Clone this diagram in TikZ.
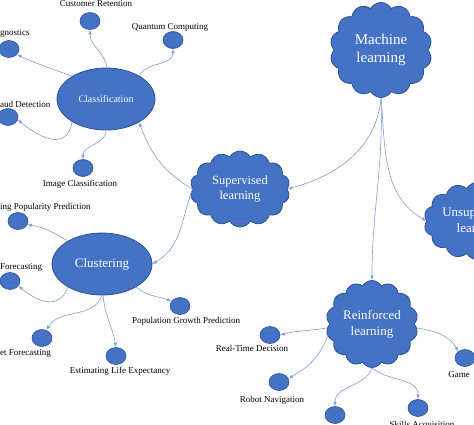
\documentclass[tikz,border=0pt]{standalone}
\usepackage{fontspec}
\setmainfont{Liberation Serif}
\usetikzlibrary{shapes.symbols,shapes.geometric,arrows.meta}
\definecolor{nodefill}{HTML}{4472C4}
\definecolor{nodeline}{HTML}{2F528F}
\definecolor{linkcol}{HTML}{7F9CD6}
\begin{document}
\begin{tikzpicture}[x=1pt,y=-1pt,
  cloudnode/.style={cloud, cloud puffs=14, cloud puff arc=120, cloud ignores aspect, fill=nodefill, draw=nodeline, line width=0.8pt, text=white, align=center, inner sep=0pt},
  bignode/.style={ellipse, fill=nodefill, draw=nodeline, line width=0.8pt, text=white, inner sep=0pt},
  leaf/.style={ellipse, fill=nodefill, draw=nodeline, line width=0.6pt, minimum width=20pt, minimum height=17pt, inner sep=0pt},
  lbl/.style={font=\fontsize{9}{10}\selectfont, inner sep=0pt, text=black},
  link/.style={draw=linkcol, line width=0.6pt, -{Latex[length=4.5pt,width=3.5pt]}},
]
\useasboundingbox (0,0) rectangle (474,424);
\clip (0,0) rectangle (474,424);

% main clouds
\node[cloudnode, minimum width=102pt, minimum height=95pt, font=\fontsize{15}{18}\selectfont] (ml) at (381,50) {Machine\\learning};
\node[cloudnode, minimum width=100pt, minimum height=76pt, font=\fontsize{12.5}{15}\selectfont] (sup) at (240,189) {Supervised\\learning};
\node[cloudnode, minimum width=108pt, minimum height=78pt, font=\fontsize{13}{16}\selectfont] (uns) at (478,221) {Unsupervised\\learning};
\node[cloudnode, minimum width=92pt, minimum height=87pt, font=\fontsize{13}{16}\selectfont] (rl) at (372,324) {Reinforced\\learning};

% ellipses
\node[bignode, minimum width=98pt, minimum height=62pt, font=\fontsize{10}{12}\selectfont] (cls) at (106,99) {Classification};
\node[bignode, minimum width=100pt, minimum height=62pt, font=\fontsize{13}{15}\selectfont] (clu) at (102,264) {Clustering};

% classification leaves
\node[leaf] (cr) at (90,21) {};
\node[lbl] (crl) at (96,4) {Customer Retention};
\node[leaf] (qc) at (173,40) {};
\node[lbl] (qcl) at (170,27) {Quantum Computing};
\node[leaf] (dg) at (9,49) {};
\node[lbl, anchor=west] (dgl) at (0,33) {gnostics};
\node[leaf] (fd) at (8,117) {};
\node[lbl, anchor=west] (fdl) at (0,104) {aud Detection};
\node[leaf] (ic) at (83,168) {};
\node[lbl] (icl) at (80,184) {Image Classification};

% clustering leaves
\node[leaf] (pp) at (18,221) {};
\node[lbl, anchor=west] (ppl) at (0,207) {ing Popularity Prediction};
\node[leaf] (fc) at (10,281) {};
\node[lbl, anchor=west] (fcl) at (0,267) {Forecasting};
\node[leaf] (mf) at (42,338) {};
\node[lbl, anchor=west] (mfl) at (0,353) {et Forecasting};
\node[leaf] (le) at (116,356) {};
\node[lbl] (lel) at (120,371) {Estimating Life Expectancy};
\node[leaf] (pg) at (180,306) {};
\node[lbl, anchor=west] (pgl) at (132,321) {Population Growth Prediction};

% reinforced leaves
\node[leaf] (rt) at (270,335) {};
\node[lbl] (rtl) at (252,348) {Real-Time Decision};
\node[leaf] (rn) at (279,382) {};
\node[lbl] (rnl) at (272,400) {Robot Navigation};
\node[leaf] (bl) at (335,415) {};
\node[leaf] (sk) at (418,408) {};
\node[lbl] (skl) at (422,425) {Skills Acquisition};
\node[leaf] (gm) at (465,358) {};
\node[lbl] (gml) at (459,375) {Game};

% connectors from Machine learning
\draw[link] (ml.south) to[out=-95,in=15] (sup.east);
\draw[link] (ml.south) to[out=-88,in=90] (rl.north);
\draw[link] (ml.south) to[out=-85,in=150] (uns.west);

% supervised
\draw[link] (sup.west) to[out=150,in=-70] (cls.-35);
\draw[link] (sup.west) to[out=-110,in=30] (clu.east);

% classification
\draw[link] (cls.88) to[out=100,in=-90] (cr.south);
\draw[link] (cls.35) to[out=60,in=-90] (qc.south);
\draw[link] (cls.146) to[out=160,in=-25] (dg.-35);
\draw[link] (cls.214) to[out=-100,in=-40,looseness=1.4] (fd.-15);
\draw[link] (cls.south) to[out=-90,in=90] (ic.north);

% clustering
\draw[link] (clu.146) to[out=150,in=-10] (pp.-20);
\draw[link] (clu.214) to[out=-110,in=-40,looseness=1.3] (fc.-30);
\draw[link] (clu.south) to[out=-110,in=60] (mf.60);
\draw[link] (clu.-88) to[out=-85,in=100] (le.north);
\draw[link] (clu.-34) to[out=-40,in=160] (pg.150);

% reinforced
\draw[link] (rl.185) to[out=-170,in=15] (rt.east);
\draw[link] (rl.195) to[out=-110,in=30] (rn.20);
\draw[link] (rl.south) to[out=-110,in=90] (bl.north);
\draw[link] (rl.south) to[out=-40,in=90] (sk.north);
\draw[link] (rl.-5) to[out=-10,in=120] (gm.135);
\end{tikzpicture}
\end{document}
